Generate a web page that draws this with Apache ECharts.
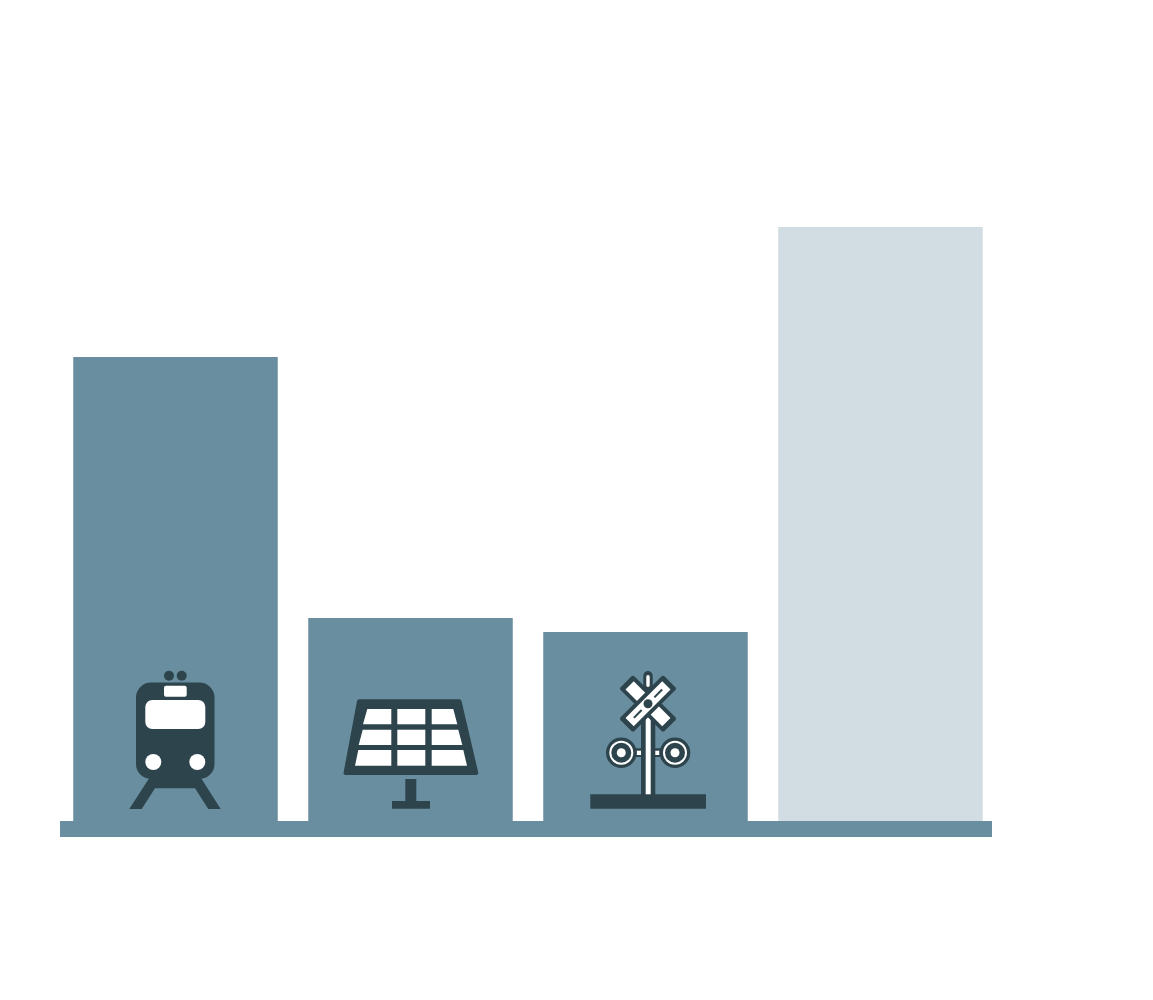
<!DOCTYPE html>
<html>
<head>
<meta charset="utf-8">
<style>html,body{margin:0;padding:0;background:#fff}#c{width:1153px;height:1000px}</style>
<script src="https://cdn.jsdelivr.net/npm/echarts@6/dist/echarts.min.js"></script>
</head>
<body>
<div id="c"></div>
<script>
var categories = ['Train', 'Solar', 'Crossing', 'Other'];
var values = [46.4, 20.3, 18.9, 59.4];
var barColors = ['#698EA0', '#698EA0', '#698EA0', '#D2DCE3'];

var DARK = '#2D444C', WHITE = '#FFFFFF', BAND = '#698EA0', ICON_Z = 100;

function rect(x, y, w, h, fill, r) {
  return {type: 'rect', z: ICON_Z, shape: {x: x, y: y, width: w, height: h, r: r || 0}, style: {fill: fill}};
}
function circle(cx, cy, r, fill) {
  return {type: 'circle', z: ICON_Z, shape: {cx: cx, cy: cy, r: r}, style: {fill: fill}};
}
function poly(points, fill, stroke, lw) {
  return {type: 'polygon', z: ICON_Z, shape: {points: points},
    style: {fill: fill, stroke: stroke || null, lineWidth: lw || 0, lineJoin: 'round'}};
}
function rotated(cx, cy, deg, children) {
  return {type: 'group', x: cx, y: cy, rotation: deg * Math.PI / 180, children: children};
}

var train = [
  poly([[149.3,778],[129.3,809],[141.7,809],[155,788.3],[195,788.3],[208.3,809],[220.7,809],[201,778]], DARK),
  circle(169, 675.7, 5, DARK), circle(181.7, 675.7, 5, DARK),
  rect(136, 682.5, 78.5, 96.5, DARK, 15),
  rect(164, 685.7, 22.7, 11, WHITE, 2),
  rect(145.3, 700, 60, 29, WHITE, 7),
  circle(153.3, 762, 8, WHITE), circle(197.3, 762, 8, WHITE)
];

var solar = [
  poly([[359,701.3],[459.5,701.3],[476.3,773],[345.5,773]], DARK, DARK, 4),
  rect(405.3, 779, 11, 23, DARK), rect(392, 801, 38, 7.7, DARK),
  poly([[367.3,709],[391.3,709],[391.3,724.3],[363,724.3]], WHITE),
  rect(397.3, 709, 28, 15.3, WHITE),
  poly([[431.7,709],[453.3,709],[457.3,724.3],[431.7,724.3]], WHITE),
  poly([[362.7,729.7],[391.3,729.7],[391.3,745],[358.7,745]], WHITE),
  rect(397.3, 729.7, 28, 15.3, WHITE),
  poly([[431.7,729.7],[458.3,729.7],[462.3,745],[431.7,745]], WHITE),
  poly([[358.3,750],[391.3,750],[391.3,765.7],[355,765.7]], WHITE),
  rect(397.3, 750, 28, 15.7, WHITE),
  poly([[431.7,750],[463.3,750],[467,765.7],[431.7,765.7]], WHITE)
];

var crossing = [
  rect(590.3, 794.3, 115.7, 14.4, DARK),
  rect(643.3, 671, 9.4, 30, DARK, 4.7),
  rect(646.3, 675, 3.4, 12, WHITE, 1.7),
  rect(621, 748.3, 54, 8.7, DARK),
  rect(636.7, 750.7, 5, 4.3, WHITE), rect(654.7, 750.7, 4.6, 4.3, WHITE),
  rect(641, 715, 14.3, 80, DARK),
  rect(645.7, 716, 5, 78.3, WHITE),
  circle(621.3, 752.7, 15.3, DARK), circle(621.3, 752.7, 12, WHITE),
  circle(621.3, 752.7, 10, DARK), circle(621.3, 752.7, 4.5, WHITE),
  circle(675, 752.7, 15.3, DARK), circle(675, 752.7, 12, WHITE),
  circle(675, 752.7, 10, DARK), circle(675, 752.7, 4.5, WHITE),
  rotated(648, 703.7, -45, [
    rect(-31, -9.7, 62, 19.4, DARK, 2),
    rect(-26, -5.8, 52, 11.6, WHITE)
  ]),
  rotated(648, 703.7, 45, [
    rect(-31, -9.7, 62, 19.4, DARK, 2),
    rect(-26, -5.8, 52, 11.6, WHITE),
    rect(-20, -1, 11, 2, DARK),
    rect(9, -1, 11, 2, DARK)
  ]),
  circle(648, 703.7, 4.5, DARK)
];

var chart = echarts.init(document.getElementById('c'), null, {renderer: 'canvas'});
chart.setOption({
  animation: false,
  backgroundColor: '#FFFFFF',
  grid: [
    {left: 58, top: 21, width: 940, height: 800},
    {left: 60, top: 829, width: 932, height: 0}
  ],
  xAxis: [
    {type: 'category', gridIndex: 0, data: categories, axisLine: {show: false},
      axisTick: {show: false}, axisLabel: {show: false}, splitLine: {show: false}},
    {type: 'value', gridIndex: 1, min: 0, max: 1, axisLine: {show: true, lineStyle: {color: BAND, width: 16, cap: 'butt'}},
      axisTick: {show: false}, axisLabel: {show: false}, splitLine: {show: false}}
  ],
  yAxis: [
    {type: 'value', gridIndex: 0, min: 0, max: 80, show: false},
    {type: 'value', gridIndex: 1, min: 0, max: 1, show: false}
  ],
  series: [{
    type: 'bar',
    xAxisIndex: 0, yAxisIndex: 0,
    barWidth: 204.5,
    data: values.map(function (v, i) {
      return {value: v, itemStyle: {color: barColors[i]}};
    }),
    silent: true
  }],
  graphic: [
    {type: 'group', silent: true, children: train.concat(solar, crossing)}
  ]
});
</script>
</body>
</html>
